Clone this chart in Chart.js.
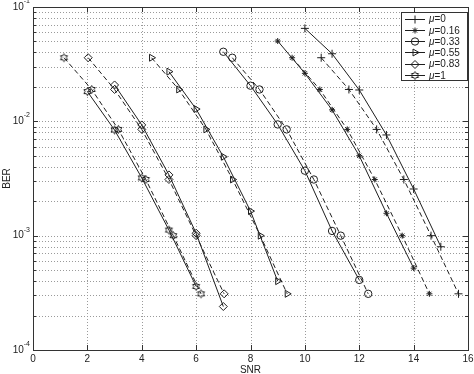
<!DOCTYPE html>
<html>
<head>
<meta charset="utf-8">
<title>BER vs SNR</title>
<script src="https://cdn.jsdelivr.net/npm/chart.js@4.4.1/dist/chart.umd.min.js"></script>
<style>
  html, body { margin: 0; padding: 0; background: #fff; }
  canvas { display: block; }
</style>
</head>
<body>
<canvas id="berChart" width="474" height="374"></canvas>
<script>
// values
const muLabels = ['0', '0.16', '0.33', '0.55', '0.83', '1'];
const xTicks = [0, 2, 4, 6, 8, 10, 12, 14, 16];
const yDecades = [1e-4, 1e-3, 1e-2, 1e-1];

// dashed curves all pass through the same BER levels, only shifted in SNR
const berDashed = [0.036, 0.019, 0.0085, 0.0031, 0.001, 0.00031];

const snrSolid0 = [10, 11, 12, 13, 14, 15];
const berSolid0 = [0.065, 0.039, 0.0188, 0.0076, 0.00256, 0.0008];
const snrDashed0 = [10.6, 11.62, 12.64, 13.64, 14.64, 15.65];

const snrSolid16 = [9, 10, 11, 12, 13, 14];
const berSolid16 = [0.0504, 0.0263, 0.0126, 0.005, 0.00157, 0.00052];
const snrDashed16 = [9.53, 10.55, 11.56, 12.57, 13.58, 14.58];

const snrSolid33 = [7, 8, 9, 10, 11, 12];
const berSolid33 = [0.0406, 0.0205, 0.0094, 0.0037, 0.0011, 0.00041];
const snrDashed33 = [7.33, 8.33, 9.33, 10.33, 11.32, 12.33];

const snrSolid55 = [5, 6, 7, 8, 9];
const berSolid55 = [0.0272, 0.0128, 0.0049, 0.00164, 0.0004];
const snrDashed55 = [4.36, 5.36, 6.36, 7.34, 8.36, 9.35];

const snrSolid83 = [3, 4, 5, 6, 7];
const berSolid83 = [0.0208, 0.0093, 0.0034, 0.00105, 0.00024];
const snrDashed83 = [2.03, 3.0, 4.0, 5.0, 6.0, 7.03];

const snrSolid1 = [2, 3, 4, 5, 6];
const berSolid1 = [0.0182, 0.0084, 0.0032, 0.00112, 0.00036];
const snrDashed1 = [1.14, 2.16, 3.14, 4.15, 5.16, 6.18];

const ink = '#1e1e1e';
const fontFamily = "'Liberation Sans', Arial, Helvetica, sans-serif";

// MATLAB-ish hexagram marker, Chart.js has none
function makeHexagram(r) {
  const c = document.createElement('canvas');
  const s = Math.ceil(r * 2 + 3);
  c.width = s; c.height = s;
  const g = c.getContext('2d');
  g.strokeStyle = ink;
  g.lineWidth = 1;
  const cx = s / 2, cy = s / 2;
  g.beginPath();
  for (let k = 0; k < 12; k++) {
    const ang = -Math.PI / 2 + k * Math.PI / 6;
    const rr = k % 2 === 0 ? r : r * 0.58;
    const px = cx + rr * Math.cos(ang), py = cy + rr * Math.sin(ang);
    if (k === 0) g.moveTo(px, py); else g.lineTo(px, py);
  }
  g.closePath();
  g.stroke();
  return c;
}
const hexagram = makeHexagram(4);

const markers = [
  { pointStyle: 'cross', radius: 4, rotation: 0 },
  { pointStyle: 'star', radius: 3, rotation: 0 },
  { pointStyle: 'circle', radius: 3.7, rotation: 0 },
  { pointStyle: 'triangle', radius: 4, rotation: 90 },
  { pointStyle: 'rectRot', radius: 4, rotation: 0 },
  { pointStyle: hexagram, radius: 4, rotation: 0 }
];

const solidSets = [
  [snrSolid0, berSolid0], [snrSolid16, berSolid16], [snrSolid33, berSolid33],
  [snrSolid55, berSolid55], [snrSolid83, berSolid83], [snrSolid1, berSolid1]
];
const dashedSnr = [snrDashed0, snrDashed16, snrDashed33, snrDashed55, snrDashed83, snrDashed1];

function pts(xs, ys) {
  return xs.map((v, i) => ({ x: v, y: ys[i] }));
}

function curve(label, data, m, dash) {
  return {
    label,
    data,
    borderColor: ink,
    backgroundColor: 'rgba(0,0,0,0)',
    borderWidth: 1,
    borderDash: dash,
    pointStyle: m.pointStyle,
    pointRadius: m.radius,
    pointRotation: m.rotation,
    pointBorderColor: ink,
    pointBackgroundColor: 'rgba(0,0,0,0)',
    pointBorderWidth: 1,
    tension: 0,
    fill: false
  };
}

const datasets = [];
muLabels.forEach((mu, i) => {
  const [xs, ys] = solidSets[i];
  datasets.push(curve('\u03bc=' + mu, pts(xs, ys), markers[i], []));
  datasets.push(curve('\u03bc=' + mu + ' (dashed)', pts(dashedSnr[i], berDashed), markers[i], [5, 3]));
});

// every 1..9 x 10^n inside the axis range, for the dotted minor grid
const yGridValues = [];
for (let d = 0; d < yDecades.length - 1; d++) {
  for (let k = 1; k <= 9; k++) yGridValues.push(k * yDecades[d]);
}
yGridValues.push(yDecades[yDecades.length - 1]);

// dotted grid under the curves
const gridPlugin = {
  id: 'dottedGrid',
  beforeDatasetsDraw(chart) {
    const { ctx, chartArea: a, scales: { x, y } } = chart;
    ctx.save();
    ctx.strokeStyle = '#9a9a9a';
    ctx.lineWidth = 1;
    ctx.setLineDash([1, 2]);
    ctx.beginPath();
    xTicks.forEach(v => {
      const px = Math.round(x.getPixelForValue(v)) + 0.5;
      ctx.moveTo(px, a.top); ctx.lineTo(px, a.bottom);
    });
    yGridValues.forEach(v => {
      const py = Math.round(y.getPixelForValue(v)) + 0.5;
      ctx.moveTo(a.left, py); ctx.lineTo(a.right, py);
    });
    ctx.stroke();
    ctx.restore();
  }
};

const axesPlugin = {
  id: 'matlabAxes',
  afterDraw(chart) {
    const { ctx, chartArea: a, scales: { x, y } } = chart;
    ctx.save();
    ctx.strokeStyle = '#333';
    ctx.lineWidth = 1;

    // box
    ctx.strokeRect(Math.round(a.left) + 0.5, Math.round(a.top) + 0.5,
      Math.round(a.right - a.left), Math.round(a.bottom - a.top));

    // inward ticks
    ctx.beginPath();
    xTicks.forEach(v => {
      const px = Math.round(x.getPixelForValue(v)) + 0.5;
      ctx.moveTo(px, a.bottom); ctx.lineTo(px, a.bottom - 5);
      ctx.moveTo(px, a.top); ctx.lineTo(px, a.top + 5);
    });
    yGridValues.forEach(v => {
      const py = Math.round(y.getPixelForValue(v)) + 0.5;
      const major = yDecades.includes(v);
      const len = major ? 5 : 3;
      ctx.moveTo(a.left, py); ctx.lineTo(a.left + len, py);
      ctx.moveTo(a.right, py); ctx.lineTo(a.right - len, py);
    });
    ctx.stroke();

    ctx.fillStyle = '#222';
    // x tick labels
    ctx.font = '10px ' + fontFamily;
    ctx.textAlign = 'center';
    ctx.textBaseline = 'middle';
    xTicks.forEach(v => {
      ctx.fillText(String(v), x.getPixelForValue(v), a.bottom + 9);
    });

    // y tick labels: 10 with raised exponent
    yDecades.forEach(v => {
      const py = y.getPixelForValue(v);
      const exp = String(Math.round(Math.log10(v)));
      ctx.font = '7px ' + fontFamily;
      ctx.textAlign = 'left';
      const ew = ctx.measureText(exp).width;
      const ex = a.left - 3 - ew;
      ctx.fillText(exp, ex, py - 6);
      ctx.font = '10px ' + fontFamily;
      ctx.textAlign = 'right';
      ctx.fillText('10', ex, py);
    });

    // axis titles
    ctx.font = '10px ' + fontFamily;
    ctx.textAlign = 'center';
    ctx.fillText('SNR', (a.left + a.right) / 2, a.bottom + 20);
    ctx.save();
    ctx.translate(7, (a.top + a.bottom) / 2);
    ctx.rotate(-Math.PI / 2);
    ctx.fillText('BER', 0, 0);
    ctx.restore();

    // legend box
    const lx = 401, ly = 12, lw = 66, lh = 68;
    ctx.fillStyle = '#fff';
    ctx.fillRect(lx, ly, lw, lh);
    ctx.strokeStyle = '#333';
    ctx.strokeRect(lx + 0.5, ly + 0.5, lw, lh);
    muLabels.forEach((mu, i) => {
      const ey = ly + 6.5 + i * 11.3;
      ctx.strokeStyle = ink;
      ctx.beginPath();
      ctx.moveTo(lx + 4, Math.round(ey) + 0.5);
      ctx.lineTo(lx + 24, Math.round(ey) + 0.5);
      ctx.stroke();
      ctx.fillStyle = 'rgba(0,0,0,0)';
      Chart.helpers.drawPoint(ctx, {
        pointStyle: markers[i].pointStyle,
        radius: markers[i].radius,
        rotation: markers[i].rotation,
        borderWidth: 1
      }, lx + 14, Math.round(ey) + 0.5);
      ctx.fillStyle = '#222';
      ctx.textAlign = 'left';
      ctx.font = 'italic 10px ' + fontFamily;
      ctx.fillText('\u03bc', lx + 28, ey + 1);
      const mw = ctx.measureText('\u03bc').width;
      ctx.font = '10px ' + fontFamily;
      ctx.fillText('=' + mu, lx + 28 + mw, ey + 1);
    });
    ctx.restore();
  }
};

new Chart(document.getElementById('berChart'), {
  type: 'line',
  data: { datasets },
  options: {
    responsive: false,
    animation: false,
    layout: { padding: { top: 7, right: 6, left: 0, bottom: 0 } },
    plugins: {
      legend: { display: false },
      tooltip: { enabled: false }
    },
    scales: {
      x: {
        type: 'linear',
        min: 0,
        max: 16,
        afterBuildTicks: scale => { scale.ticks = xTicks.map(v => ({ value: v })); },
        afterFit: scale => { scale.height = 24; },
        ticks: { display: false },
        grid: { display: false },
        border: { display: false }
      },
      y: {
        type: 'logarithmic',
        min: 1e-4,
        max: 1e-1,
        afterBuildTicks: scale => { scale.ticks = yGridValues.map(v => ({ value: v })); },
        afterFit: scale => { scale.width = 33; },
        ticks: { display: false },
        grid: { display: false },
        border: { display: false }
      }
    }
  },
  plugins: [gridPlugin, axesPlugin]
});
</script>
</body>
</html>
